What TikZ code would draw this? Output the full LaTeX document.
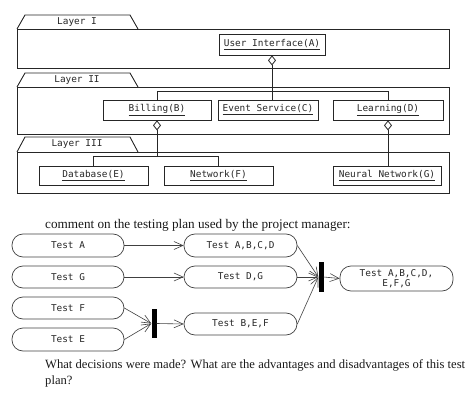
\documentclass[tikz,border=0pt]{standalone}
\usepackage{fontspec}
\setmainfont{Liberation Serif}
\newfontfamily\monof{DejaVu Sans Mono}
\usetikzlibrary{arrows.meta,calc}
\begin{document}
\begin{tikzpicture}[x=1pt,y=-1pt,
  every node/.style={inner sep=0pt},
  layer/.style={draw=black!85, line width=0.9pt},
  comp/.style={draw=black!85, line width=0.8pt, font=\fontsize{9.4}{11}\monof, text=black!85},
  tabtext/.style={font=\fontsize{9.4}{11}\monof, text=black!85},
  conn/.style={draw=black!85, line width=0.8pt},
  agg/.style={conn, {Diamond[open,length=10pt,width=8pt,line width=0.8pt]}-},
  act/.style={draw=black!75, line width=0.7pt, rounded corners=11pt, font=\fontsize{9.4}{11}\monof, text=black!85, minimum width=112pt, align=center},
  bar/.style={fill=black, minimum width=5pt},
  flow/.style={draw=black!75, line width=0.6pt, -{Straight Barb[length=9pt,width=8pt,line width=0.6pt]}},
  body/.style={font=\fontsize{13.2}{16}\selectfont, text=black!90}
]
\useasboundingbox (0,0) rectangle (474,401);
% ---- layers ----
\draw[layer] (17,29) -- (25,15) -- (130,15) -- (138,29);
\draw[layer] (17,29) rectangle (449,68);
\node[tabtext] (L1) at (77,22) {Layer I};
\draw[layer] (17,87) -- (25,73) -- (130,73) -- (138,87);
\draw[layer] (17,87) rectangle (449,134);
\node[tabtext] (L2) at (77,80) {Layer II};
\draw[layer] (17,152) -- (25,137) -- (130,137) -- (138,152);
\draw[layer] (17,152) rectangle (449,193);
\node[tabtext] (L3) at (77,144.5) {Layer III};
% ---- components ----
\node[comp, minimum width=106pt, minimum height=21pt] (A) at (272,44.5) {\underline{User Interface(A)}};
\node[comp, minimum width=108pt, minimum height=20pt] (B) at (157,110) {\underline{Billing(B)}};
\node[comp, minimum width=100pt, minimum height=20pt] (C) at (268,110) {\underline{Event Service(C)}};
\node[comp, minimum width=110pt, minimum height=20pt] (D) at (388,110) {\underline{Learning(D)}};
\node[comp, minimum width=109pt, minimum height=19pt] (E) at (93.5,175.5) {\underline{Database(E)}};
\node[comp, minimum width=109pt, minimum height=19pt] (F) at (218.5,175.5) {\underline{Network(F)}};
\node[comp, minimum width=108pt, minimum height=19pt] (G) at (387,175.5) {\underline{Neural Network(G)}};
\draw[agg] (A.south) -- (A.south |- C.north);
\draw[conn] (B.north) -- ++(0,-8) -| (D.north);
\draw[agg] (B.south) -- ++(0,37);
\draw[conn] (E.north) -- ++(0,-9) -| (F.north);
\draw[agg] (D.south) -- (D.south |- G.north);
% ---- text ----
\node[body, anchor=base west] (t1) at (45,228) {comment on the testing plan used by the project manager:};
% ---- activity diagram ----
\node[act, minimum height=23pt] (TA) at (68,245.5) {Test A};
\node[act, minimum height=22pt] (TG) at (68,277) {Test G};
\node[act, minimum height=22pt] (TF) at (68,308) {Test F};
\node[act, minimum height=23pt] (TE) at (68,339.5) {Test E};
\node[act, minimum width=113pt, minimum height=23pt] (TABCD) at (240.5,245.5) {Test A,B,C,D};
\node[act, minimum width=113pt, minimum height=22pt] (TDG) at (240.5,277) {Test D,G};
\node[act, minimum width=113pt, minimum height=22pt] (TBEF) at (240.5,324) {Test B,E,F};
\node[act, minimum width=113pt, minimum height=25pt, font=\fontsize{9.4}{10}\monof] (TALL) at (396.5,278.5) {Test A,B,C,D,\\E,F,G};
\node[bar, minimum height=29pt] (J1) at (154,323.5) {};
\node[bar, minimum height=30pt] (J2) at (321,277) {};
\draw[flow] (TA.east) -- (TABCD.west);
\draw[flow] (TG.east) -- (TDG.west);
\draw[flow] (TF.east) -- (J1.west);
\draw[flow] (TE.east) -- (J1.west);
\draw[flow] (J1.east) -- (TBEF.west);
\draw[flow] (TABCD.east) -- (J2.west);
\draw[flow] (TDG.east) -- (J2.west);
\draw[flow] (TBEF.east) -- (J2.west);
\draw[flow] (J2.east) -- (TALL.west);
\node[body, font=\fontsize{12.6}{16}\selectfont, anchor=base west, align=left] (t2) at (45,384) {\makebox[420pt][s]{What decisions were made? What are the advantages and disadvantages of this test}\\plan?};
\end{tikzpicture}
\end{document}
